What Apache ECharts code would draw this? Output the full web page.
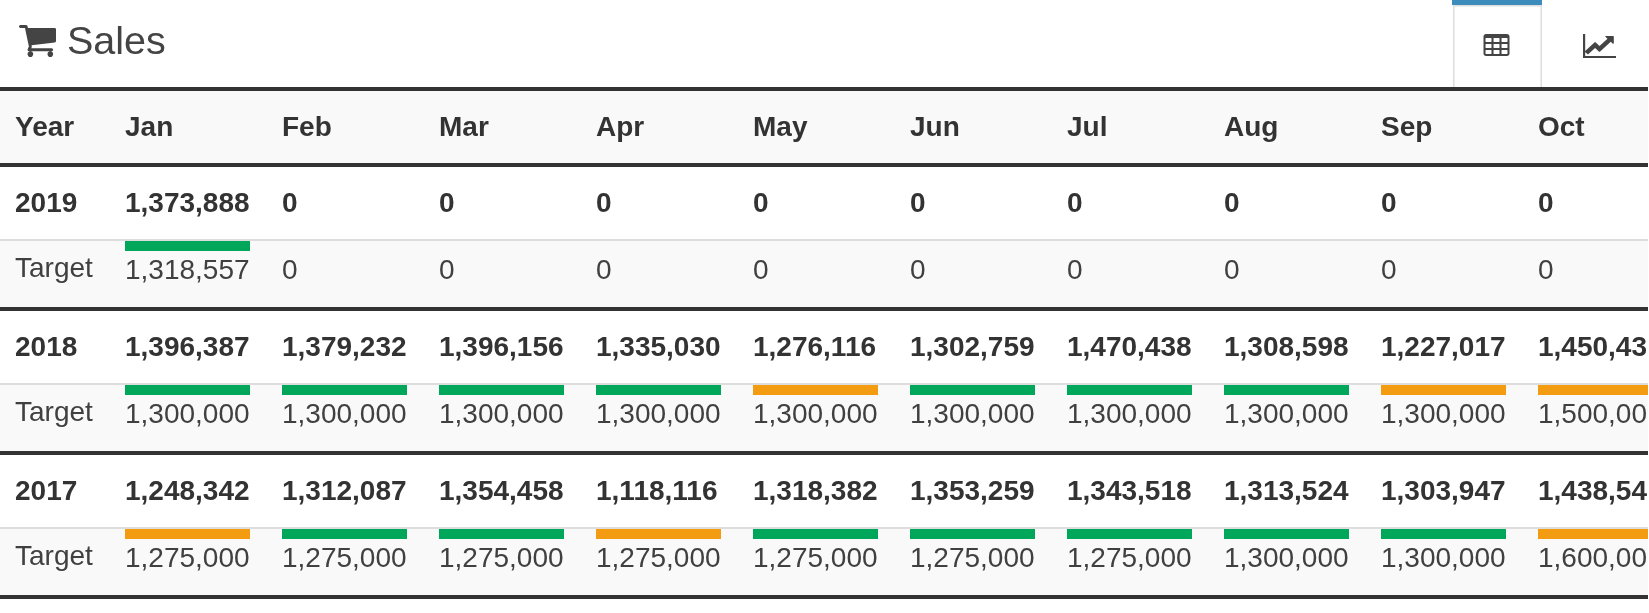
<!DOCTYPE html>
<html><head><meta charset="utf-8">
<style>html,body{margin:0;padding:0;background:#fff;overflow:hidden}#c{width:1648px;height:613px;overflow:hidden}</style>
<script src="https://cdn.jsdelivr.net/npm/echarts@6/dist/echarts.min.js"></script>
</head><body><div id="c"></div>
<script>
const titleText = 'Sales';
const yearHeader = 'Year';
const targetLabel = 'Target';
const months = ['Jan','Feb','Mar','Apr','May','Jun','Jul','Aug','Sep','Oct'];
const years = ['2019','2018','2017'];
const actual2019 = [1373888,0,0,0,0,0,0,0,0,0];
const target2019 = [1318557,0,0,0,0,0,0,0,0,0];
const actual2018 = [1396387,1379232,1396156,1335030,1276116,1302759,1470438,1308598,1227017,1450430];
const target2018 = [1300000,1300000,1300000,1300000,1300000,1300000,1300000,1300000,1300000,1500000];
const actual2017 = [1248342,1312087,1354458,1118116,1318382,1353259,1343518,1313524,1303947,1438540];
const target2017 = [1275000,1275000,1275000,1275000,1275000,1275000,1275000,1300000,1300000,1600000];
const actuals = [actual2019, actual2018, actual2017];
const targets = [target2019, target2018, target2017];

const INK='#333', SOFT='#404040', GREEN='#00a65a', ORANGE='#f39c12', BLUE='#3c8dbc', RULE='#ddd', STRIPE='#f9f9f9';
const FONT='"Liberation Sans", Arial, sans-serif';
const GRID_LEFT=109, PITCH=157, PAD=16, FS=28;
const HEADER_BASE=138, ACTUAL_BASE=[214,358,502], TARGET_BASE=[281,425,569], TARGET_TOP=[241,385,529];
const LABEL_LIFT=2;

const grids=[],xAxes=[],yAxes=[],series=[];
function addGrid(top,height){
  grids.push({left:GRID_LEFT,top:top,width:PITCH*months.length,height:height,outerBoundsMode:'none',containLabel:false});
  xAxes.push({type:'category',data:months,gridIndex:grids.length-1,show:false});
  return grids.length-1;
}
function textRow(base,rowLabel,cells,bold){
  const g=addGrid(base-30,40);
  const colour=bold?INK:SOFT;
  yAxes.push({type:'category',gridIndex:g,data:[rowLabel],
    axisLine:{show:false},axisTick:{show:false},splitLine:{show:false},
    axisLabel:{align:'left',margin:GRID_LEFT-15,fontFamily:FONT,fontSize:FS,color:colour,
      fontWeight:(bold?'bold':'normal'),verticalAlign:'middle'}});
  series.push({type:'custom',xAxisIndex:g,yAxisIndex:g,clip:false,silent:true,
    data:cells.map((v,i)=>[i,0,v]),
    encode:{x:0,y:1},
    renderItem:function(p,api){
      const c=api.coord([api.value(0),0]);
      const band=api.size([1,0])[0];
      const v=cells[p.dataIndex];
      return {type:'text',style:{x:c[0]-band/2+PAD,y:c[1],
        text:typeof v==='number'?v.toLocaleString('en-US'):v,
        font:(bold?'bold ':'')+FS+'px '+FONT,fill:colour,align:'left',verticalAlign:'middle'}};
    }});
}
function statusRow(top,act,tgt){
  const g=addGrid(top,10);
  yAxes.push({type:'value',gridIndex:g,min:0,max:1,show:false});
  series.push({type:'bar',xAxisIndex:g,yAxisIndex:g,barWidth:125,silent:true,
    data:act.map((a,i)=>a>0?{value:1,itemStyle:{color:a>=tgt[i]?GREEN:ORANGE}}:null)});
}
textRow(HEADER_BASE,yearHeader,months,true);
years.forEach((y,k)=>{
  textRow(ACTUAL_BASE[k],y,actuals[k],true);
  textRow(TARGET_BASE[k]-LABEL_LIFT,targetLabel,[],false);
  textRow(TARGET_BASE[k],'',targets[k],false);
  statusRow(TARGET_TOP[k],actuals[k],targets[k]);
});

const rect=(x,y,w,h,fill,z)=>({type:'rect',z:z||0,silent:true,shape:{x,y,width:w,height:h},style:{fill}});
const CART='M640 1408q0 52-38 90t-90 38-90-38-38-90 38-90 90-38 90 38 38 90zm896 0q0 52-38 90t-90 38-90-38-38-90 38-90 90-38 90 38 38 90zm128-1088v512q0 24-16.5 42.5t-40.5 21.5l-1044 122q13 60 13 70 0 16-24 64h920q26 0 45 19t19 45-19 45-45 19h-1024q-26 0-45-19t-19-45q0-11 8-31.5t16-36 21.5-40 15.5-29.5l-177-823h-204q-26 0-45-19t-19-45 19-45 45-19h256q16 0 28.5 6.5t19.5 15.5 13 24.5 8 26 5.5 29.5 4.5 26h1201q26 0 45 19t19 45z';
const TABLE='M512 1376v-192q0-14-9-23t-23-9h-320q-14 0-23 9t-9 23v192q0 14 9 23t23 9h320q14 0 23-9t9-23zm0-384v-192q0-14-9-23t-23-9h-320q-14 0-23 9t-9 23v192q0 14 9 23t23 9h320q14 0 23-9t9-23zm512 384v-192q0-14-9-23t-23-9h-320q-14 0-23 9t-9 23v192q0 14 9 23t23 9h320q14 0 23-9t9-23zm-512-768v-192q0-14-9-23t-23-9h-320q-14 0-23 9t-9 23v192q0 14 9 23t23 9h320q14 0 23-9t9-23zm512 384v-192q0-14-9-23t-23-9h-320q-14 0-23 9t-9 23v192q0 14 9 23t23 9h320q14 0 23-9t9-23zm512 384v-192q0-14-9-23t-23-9h-320q-14 0-23 9t-9 23v192q0 14 9 23t23 9h320q14 0 23-9t9-23zm-512-768v-192q0-14-9-23t-23-9h-320q-14 0-23 9t-9 23v192q0 14 9 23t23 9h320q14 0 23-9t9-23zm512 384v-192q0-14-9-23t-23-9h-320q-14 0-23 9t-9 23v192q0 14 9 23t23 9h320q14 0 23-9t9-23zm0-384v-192q0-14-9-23t-23-9h-320q-14 0-23 9t-9 23v192q0 14 9 23t23 9h320q14 0 23-9t9-23zm128-320v1088q0 66-47 113t-113 47h-1344q-66 0-113-47t-47-113v-1088q0-66 47-113t113-47h1344q66 0 113 47t47 113z';
const LINE='M1920 1536v128h-1920v-1536h128v1408h1792zm-128-1248v435q0 21-19.5 29.5t-35.5-7.5l-121-121-633 633q-10 10-23 10t-23-10l-233-233-416 416-192-192 585-585q10-10 23-10t23 10l233 233 464-464-121-121q-16-16-7.5-35.5t29.5-19.5h435q14 0 23 9t9 23z';
const iconBoxes=[[CART,19,25,37,32],[TABLE,1483.5,34,26,22],[LINE,1583,34,33,24]];
series.push({type:'custom',coordinateSystem:'none',silent:true,z:5,
  data:iconBoxes.map((b,i)=>[i]),
  renderItem:function(p){
    const b=iconBoxes[p.dataIndex];
    return {type:'path',shape:{pathData:b[0],layout:'cover',x:b[1],y:b[2],width:b[3],height:b[4]},style:{fill:'#444'}};
  }});

const W=1648;
const graphics=[
  rect(0,91,W,72,STRIPE),
  rect(0,241,W,66,STRIPE), rect(0,385,W,66,STRIPE), rect(0,529,W,66,STRIPE),
  rect(0,87,W,4,INK,1), rect(0,163,W,4,INK,1), rect(0,307,W,4,INK,1), rect(0,451,W,4,INK,1), rect(0,595,W,4,INK,1),
  rect(0,239,W,2,RULE,1), rect(0,383,W,2,RULE,1), rect(0,527,W,2,RULE,1),
  rect(1452,0,90,5,BLUE,1), rect(1453,5,89,1.5,RULE,1), rect(1453,5,1.5,82,RULE,1), rect(1540.5,5,1.5,82,RULE,1)
];

const chart=echarts.init(document.getElementById('c'),null,{renderer:'canvas',width:1648,height:613});
chart.setOption({
  animation:false,backgroundColor:'#fff',
  title:{text:titleText,left:62,top:18,textStyle:{fontFamily:FONT,fontSize:39.5,fontWeight:'normal',color:'#444'}},
  tooltip:{show:false},legend:{show:false},
  graphic:{elements:graphics},
  grid:grids,xAxis:xAxes,yAxis:yAxes,series:series
});
</script></body></html>
